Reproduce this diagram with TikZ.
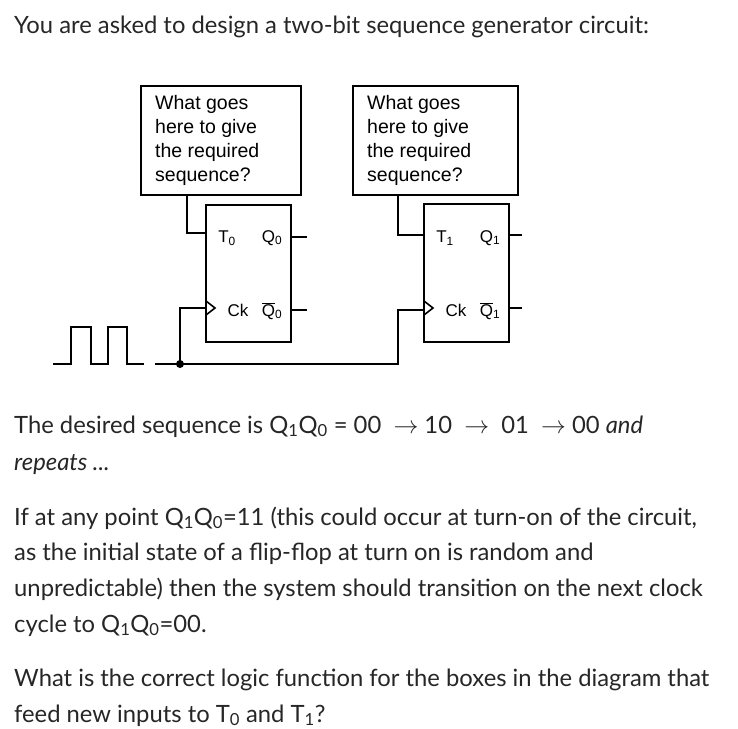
\documentclass[tikz,border=0pt]{standalone}
\usepackage{fontspec}
\setmainfont{Lato}
\newfontfamily\arialf{Liberation Sans}
\begin{document}
\begin{tikzpicture}[x=1pt,y=-1pt,
  txt/.style={anchor=base west,inner sep=0pt,font=\fontsize{23.8}{28}\selectfont,text=black!85},
  box/.style={draw,line width=1.2pt},
  wire/.style={line width=2.2pt},
  ff/.style={draw,line width=2.2pt},
  lab/.style={inner sep=0pt,font=\arialf\fontsize{17}{20}\selectfont},
  q/.style={font=\arialf\fontsize{19.5}{24}\selectfont,align=left,anchor=north west,inner sep=0pt}]
\useasboundingbox (0,0) rectangle (738,728);
\node[txt] (t1) at (14,33) {You are asked to design a two-bit sequence generator circuit:};
% boxes
\draw[box] (141,86) rectangle (301,195);
\draw[box] (353,86) rectangle (518,195);
\node[q] (b1) at (155,95) {What goes\\here to give\\the required\\sequence?};
\node[q] (b2) at (367,95) {What goes\\here to give\\the required\\sequence?};
% flip-flops
\draw[ff] (206,205) rectangle (291,342);
\draw[ff] (424,204) rectangle (509,342);
\node[lab] (t0) at (227,238) {T\textsubscript{0}};
\node[lab] (q0) at (272,238) {Q\textsubscript{0}};
\node[lab] (ck0) at (238,310) {Ck};
\node[lab] (nq0) at (272,311) {$\overline{\mbox{Q}}$\textsubscript{0}};
\node[lab] (t1l) at (445,238) {T\textsubscript{1}};
\node[lab] (q1) at (490,238) {Q\textsubscript{1}};
\node[lab] (ck1) at (456,310) {Ck};
\node[lab] (nq1) at (490,311) {$\overline{\mbox{Q}}$\textsubscript{1}};
\draw[line width=1.6pt] (206,301)--(215,308)--(206,315);
\draw[line width=1.6pt] (424,301)--(433,308)--(424,315);
% wires
\draw[wire] (187,195)--(187,233)--(206,233);
\draw[wire] (398,195)--(398,235)--(424,235);
\draw[wire] (291,237)--(307,237);
\draw[wire] (291,310)--(307,310);
\draw[wire] (509,235)--(522,235);
\draw[wire] (509,308)--(522,308);
\coordinate (dot) at (180,364);
\draw[wire] (155,364)--(398,364)--(398,310)--(424,310);
\draw[wire] (dot)--(180,308)--(206,308);
\fill (dot) circle (4);
\draw[wire] (53,364)--(71,364)--(71,327)--(91,327)--(91,364)--(108,364)--(108,327)--(127,327)--(127,364)--(144,364);
% text
\node[txt] (p1) at (14,433) {The desired sequence is Q\textsubscript{1}Q\textsubscript{0} = 00 \ $\rightarrow$ 10 \ $\rightarrow$ \ 01 \ $\rightarrow$ 00 \textit{and}};
\node[txt] (p2) at (14,470) {\textit{repeats ...}};
\node[txt] (p3) at (14,525) {If at any point Q\textsubscript{1}Q\textsubscript{0}=11 (this could occur at turn-on of the circuit,};
\node[txt] (p4) at (14,560) {as the initial state of a flip-flop at turn on is random and};
\node[txt] (p5) at (14,596) {unpredictable) then the system should transition on the next clock};
\node[txt] (p6) at (14,632) {cycle to Q\textsubscript{1}Q\textsubscript{0}=00.};
\node[txt] (p7) at (14,686) {What is the correct logic function for the boxes in the diagram that};
\node[txt] (p8) at (14,722) {feed new inputs to T\textsubscript{0} and T\textsubscript{1}?};
\end{tikzpicture}
\end{document}
